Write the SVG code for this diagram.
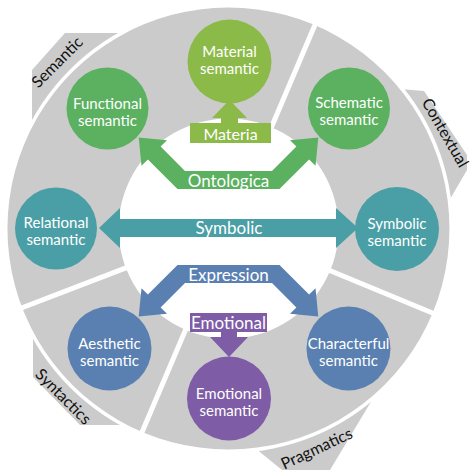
<svg xmlns="http://www.w3.org/2000/svg" width="474" height="474" viewBox="0 0 474 474">
<style>
.tab{fill:#cbcbcb}
.tabtxt{font-family:Lato,"Liberation Sans",sans-serif;font-size:16px;fill:#111;text-anchor:middle}
.lbl{font-family:Lato,"Liberation Sans",sans-serif;font-size:15px;fill:#fff;text-anchor:middle}
.alb{font-family:Lato,"Liberation Sans",sans-serif;font-size:17px;fill:#fff;text-anchor:middle}
.sep{stroke:#fff;stroke-width:5}
</style>
<rect width="474" height="474" fill="#fff"/>
<!-- tabs -->
<polygon class="tab" points="32,125 32,70 65,33 120,33 140,100 100,140"/>
<polygon class="tab" points="400,89 424,91 467,155 467,170 446,206 380,180 380,120"/>
<polygon class="tab" points="33,335 33,377 80,425 122,425 130,330 60,300"/>
<polygon class="tab" points="255,448 282,470 330,470 372,400 300,350"/>
<circle cx="228.5" cy="228.5" r="224.5" fill="#fff"/>
<!-- ring -->
<path d="M228.5,7.5 A221,221 0 1,1 228.4,7.5 Z M228.5,118.5 A110,110 0 1,0 228.6,118.5 Z" fill="#cbcbcb" fill-rule="evenodd"/>
<line class="sep" x1="269.5" y1="131.8" x2="316.8" y2="20.5"/>
<line class="sep" x1="325.5" y1="268.7" x2="437.3" y2="315.0"/>
<line class="sep" x1="187.5" y1="325.2" x2="140.2" y2="436.5"/>
<line class="sep" x1="130.5" y1="266.1" x2="17.5" y2="309.5"/>
<text class="tabtxt" x="61" y="66" transform="rotate(-45 61 66)">Semantic</text>
<text class="tabtxt" x="440.5" y="135.5" transform="rotate(60 440.5 135.5)">Contextual</text>
<text class="tabtxt" x="59.5" y="400.5" transform="rotate(45 59.5 400.5)">Syntactics</text>
<text class="tabtxt" x="319" y="453.5" transform="rotate(-25 319 453.5)">Pragmatics</text>
<!-- connectors -->
<g id="connectors">
<g id="materia">
<polygon fill="#8cba48" points="229.5,100 247,118 238,118 238,123 221,123 221,118 212,118"/>
<rect x="190" y="123" width="81" height="20" fill="#8cba48"/>
<text class="alb" x="230.5" y="139.5" style="font-size:16px">Materia</text>
</g>
<g id="ontologica">
<polygon fill="#5bb15f" points="185,171 160.6,146.6 167,140.3 138.7,137.4 141.5,165.7 147.9,159.4 177.5,189 279.5,189 309.1,159.4 315.5,165.7 318.3,137.4 290,140.3 296.4,146.6 272,171"/>
<text class="alb" x="228.5" y="186.5">Ontologica</text>
</g>
<g id="symbolic-arrow">
<polygon fill="#4a9fa6" points="99,228 120,208 120,219 336,219 336,208 358,228 336,248 336,237 120,237 120,248"/>
<text class="alb" x="229" y="234">Symbolic</text>
</g>
<g id="expression">
<polygon fill="#5a80b2" points="185,283 160.6,307.4 167,313.7 138.7,316.6 141.5,288.3 147.9,294.6 177.5,265 279.5,265 309.1,294.6 315.5,288.3 318.3,316.6 290,313.7 296.4,307.4 272,283"/>
<text class="alb" x="228.5" y="280.5">Expression</text>
</g>
<g id="emotional-arrow">
<rect x="190" y="313" width="77" height="19" fill="#7e5ca6"/>
<polygon fill="#7e5ca6" points="221,332 237,332 237,337 248,337 229,357 210,337 221,337"/>
<text class="alb" x="228.5" y="328.5">Emotional</text>
</g>
</g>
<!-- nodes -->
<g id="material">
<circle cx="229.5" cy="61.5" r="42" fill="#8cba48"/>
<text class="lbl" x="229.5" y="57">Material</text><text class="lbl" x="229.5" y="74">semantic</text>
</g>
<g id="functional">
<circle cx="107.5" cy="108.5" r="41" fill="#5bb15f"/>
<text class="lbl" x="107.5" y="109">Functional</text><text class="lbl" x="107.5" y="126">semantic</text>
</g>
<g id="schematic">
<circle cx="349" cy="108.5" r="41" fill="#5bb15f"/>
<text class="lbl" x="349" y="107.5">Schematic</text><text class="lbl" x="349" y="124.5">semantic</text>
</g>
<g id="relational">
<circle cx="56" cy="228.5" r="41" fill="#4a9fa6"/>
<text class="lbl" x="56" y="228">Relational</text><text class="lbl" x="56" y="245">semantic</text>
</g>
<g id="symbolic">
<circle cx="397" cy="229" r="42" fill="#4a9fa6"/>
<text class="lbl" x="397" y="228.5">Symbolic</text><text class="lbl" x="397" y="245.5">semantic</text>
</g>
<g id="aesthetic">
<circle cx="109.5" cy="348.5" r="42" fill="#5a80b2"/>
<text class="lbl" x="109.5" y="349">Aesthetic</text><text class="lbl" x="109.5" y="366">semantic</text>
</g>
<g id="characterful">
<circle cx="348.5" cy="348.5" r="42" fill="#5a80b2"/>
<text class="lbl" x="348.5" y="348.5">Characterful</text><text class="lbl" x="348.5" y="365.5">semantic</text>
</g>
<g id="emotional">
<circle cx="229" cy="398.5" r="42" fill="#7e5ca6"/>
<text class="lbl" x="229" y="399">Emotional</text><text class="lbl" x="229" y="416">semantic</text>
</g>
</svg>
